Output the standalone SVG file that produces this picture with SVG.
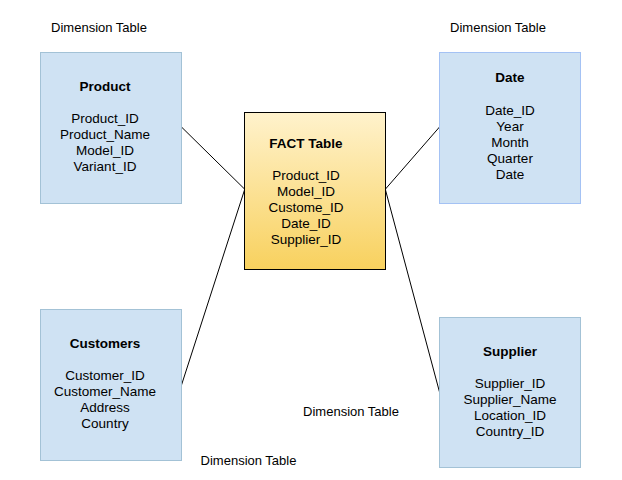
<svg xmlns="http://www.w3.org/2000/svg" width="622" height="480" viewBox="0 0 622 480">
<defs>
<linearGradient id="factGrad" x1="0" y1="0" x2="0" y2="1">
<stop offset="0" stop-color="#fff2cc"/>
<stop offset="1" stop-color="#f8d15e"/>
</linearGradient>
<style>
text{font-family:"Liberation Sans",Arial,sans-serif;font-size:13.5px;fill:#000;text-anchor:middle}
.t{font-weight:bold}
.lab{font-size:13px}
.dim{fill:#cfe2f3;stroke:#a3c2d6;stroke-width:1}
.dimb{fill:#cfe2f3;stroke:#a4c2f4;stroke-width:1}
.fact{fill:url(#factGrad);stroke:#000;stroke-width:1}
.conn{stroke:#000;stroke-width:1;fill:none}
</style>
</defs>
<rect width="622" height="480" fill="#fff"/>
<g id="connectors">
<line class="conn" x1="181.5" y1="127" x2="244.5" y2="189"/>
<line class="conn" x1="181.5" y1="385" x2="244.5" y2="190"/>
<line class="conn" x1="439.5" y1="127" x2="385.5" y2="189"/>
<line class="conn" x1="439.5" y1="392" x2="385.5" y2="190"/>
</g>
<g id="product">
<rect class="dim" x="40.5" y="52.5" width="141" height="151"/>
<text class="t" x="105" y="91">Product</text>
<text x="105" y="123">Product_ID</text>
<text x="105" y="139">Product_Name</text>
<text x="105" y="155">Model_ID</text>
<text x="105" y="171">Variant_ID</text>
</g>
<g id="date">
<rect class="dimb" x="439.5" y="52.5" width="141" height="151"/>
<text class="t" x="510" y="82">Date</text>
<text x="510" y="115">Date_ID</text>
<text x="510" y="131">Year</text>
<text x="510" y="147">Month</text>
<text x="510" y="163">Quarter</text>
<text x="510" y="179">Date</text>
</g>
<g id="fact">
<rect class="fact" x="244.5" y="112.5" width="141" height="157"/>
<text class="t" x="306" y="148">FACT Table</text>
<text x="306" y="180">Product_ID</text>
<text x="306" y="196">Model_ID</text>
<text x="306" y="212">Custome_ID</text>
<text x="306" y="228">Date_ID</text>
<text x="306" y="244">Supplier_ID</text>
</g>
<g id="customers">
<rect class="dim" x="40.5" y="309.5" width="141" height="151"/>
<text class="t" x="105" y="348">Customers</text>
<text x="105" y="380">Customer_ID</text>
<text x="105" y="396">Customer_Name</text>
<text x="105" y="412">Address</text>
<text x="105" y="428">Country</text>
</g>
<g id="supplier">
<rect class="dim" x="439.5" y="317.5" width="141" height="150"/>
<text class="t" x="510" y="356">Supplier</text>
<text x="510" y="388">Supplier_ID</text>
<text x="510" y="404">Supplier_Name</text>
<text x="510" y="420">Location_ID</text>
<text x="510" y="436">Country_ID</text>
</g>
<g id="labels">
<text class="lab" x="99" y="32">Dimension Table</text>
<text class="lab" x="498" y="32">Dimension Table</text>
<text class="lab" x="351" y="416">Dimension Table</text>
<text class="lab" x="248.5" y="465">Dimension Table</text>
</g>
</svg>
